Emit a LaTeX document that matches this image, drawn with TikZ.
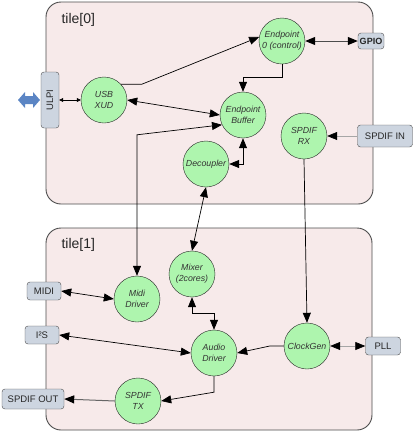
\documentclass[tikz,border=0pt]{standalone}
\usepackage{fontspec}
\setmainfont{Liberation Sans}
\usepackage{graphicx}
\usepackage{tikz}
\usetikzlibrary{arrows.meta}

\definecolor{tilepink}{HTML}{F7EAEA}
\definecolor{taskgreen}{HTML}{AEF5AE}
\definecolor{portblue}{HTML}{CDD5E0}
\definecolor{busblue}{HTML}{5B85C4}

\begin{document}
\begin{tikzpicture}[x=1pt, y=-1pt,
  tile/.style={draw=black!70, fill=tilepink, line width=0.9pt, rounded corners=15pt},
  task/.style={circle, draw=black!85, fill=taskgreen, minimum size=46pt, inner sep=0pt,
    align=center, font=\fontsize{8.8}{10.8}\selectfont\itshape, text=black!80},
  port/.style={draw=black!70, fill=portblue, rounded corners=3pt, inner sep=0pt,
    font=\fontsize{9.5}{11}\selectfont, text=black!85},
  link/.style={draw=black, line width=0.7pt, -{Triangle[length=10pt,width=8pt,color=black,fill=black]}},
  dlink/.style={link, {Triangle[length=10pt,width=8pt,color=black,fill=black]}-{Triangle[length=10pt,width=8pt,color=black,fill=black]}},
  greylink/.style={link, draw=black!60, line width=1pt},
  faintlink/.style={link, draw=black!35, line width=0.6pt},
]
\useasboundingbox (0,0) rectangle (413,432);

% tiles
\draw[tile] (46,2) rectangle (373,204);
\draw[tile] (46,228) rectangle (372,430);
\node[anchor=base west, font=\fontsize{14}{16}\selectfont, text=black!85] (t0) at (58,23) {tile[0]};
\node[anchor=base west, font=\fontsize{14}{16}\selectfont, text=black!85] (t1) at (58,248) {tile[1]};

% tasks on tile[0]
\node[task] (usb) at (104,100) {USB\\XUD};
\node[task] (ep0) at (282,41) {Endpoint\\0 (control)};
\node[task] (epb) at (243,115) {Endpoint\\Buffer};
\node[task] (dec) at (206,164) {Decoupler};
\node[task] (rx) at (304,136) {SPDIF\\RX};

% tasks on tile[1]
\node[task] (mdrv) at (137,299) {Midi\\Driver};
\node[task] (mix) at (192,274) {Mixer\\(2cores)};
\node[task] (ad) at (214,353) {Audio\\Driver};
\node[task] (tx) at (138,401) {SPDIF\\TX};
\node[task] (clk) at (307,346) {ClockGen};

% ports
\node[port, minimum width=18pt, minimum height=56pt] (ulpi) at (50,100) {\rotatebox{90}{ULPI}};
\node[port, minimum width=26pt, minimum height=16pt, font=\fontsize{9}{10}\selectfont\bfseries] (gpio) at (371,41) {GPIO};
\node[port, minimum width=55pt, minimum height=22pt] (spin) at (385,136) {SPDIF IN};
\node[port, minimum width=34pt, minimum height=18pt] (midi) at (44,291) {MIDI};
\node[port, minimum width=34pt, minimum height=18pt] (i2s) at (42,335) {I²S};
\node[port, minimum width=62pt, minimum height=20pt] (spout) at (33,399) {SPDIF OUT};
\node[port, minimum width=35pt, minimum height=18pt] (pll) at (383,346) {PLL};

% external bus arrow
\fill[busblue] (18,100) -- (25,92) -- (25,96) -- (33,96) -- (33,92) -- (40,100)
  -- (33,108) -- (33,104) -- (25,104) -- (25,108) -- cycle;

% connections on tile[0]
\draw[link, {Triangle[length=4pt,width=4pt]}-{Triangle[length=4pt,width=4pt]}] (ulpi.east) -- (usb.west);
\draw[link] (usb.43) -- ++(21,0) -- (ep0.170);
\draw[dlink] (usb.east) -- (epb.west);
\draw[link] (ep0.south) -- ++(0,13) -| (epb.north);
\draw[dlink] (dec.east) -| (epb.south);
\draw[dlink, draw=black!70, line width=1pt] (ep0.east) -- (gpio.west);
\draw[faintlink] (spin.west) -- (rx.east);

% connections between tiles
\draw[dlink] (mdrv.north) -- ++(0,-141) -- (epb.205);
\draw[dlink] (dec.south) -- (mix.north);
\draw[link] (rx.south) -- (clk.north);

% connections on tile[1]
\draw[dlink] (mix.south) -- ++(0,16) -| (ad.north);
\draw[dlink] (midi.east) -- (mdrv.west);
\draw[dlink] (i2s.east) -- (ad.west);
\draw[link] (clk.west) -- ++(-14,0) -- (ad.east);
\draw[dlink, draw=black!35, line width=0.6pt] (clk.east) -- (pll.west);
\draw[link] (ad.south) -- ++(0,16) -- (tx.east);
\draw[greylink] (tx.west) -- (spout.east);
\end{tikzpicture}
\end{document}
